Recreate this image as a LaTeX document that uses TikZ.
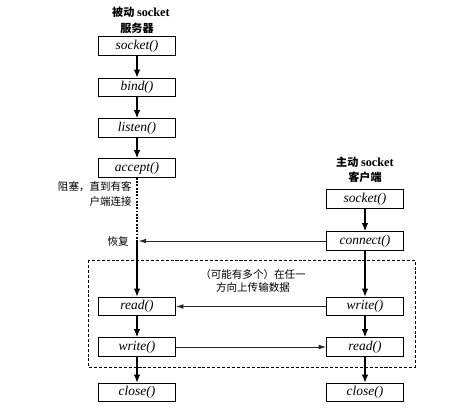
\documentclass[tikz,border=0pt]{standalone}
\usepackage{fontspec}
\setmainfont{Liberation Serif}
\newfontfamily\cjk{Noto Sans CJK SC}
\usetikzlibrary{arrows.meta}

\begin{document}
\begin{tikzpicture}[
    x=0.03cm, y=-0.03cm,
    >={Latex[length=2.4mm,width=1.9mm]},
    every node/.style={font=\fontsize{9}{11}\selectfont\cjk},
    % 函数框
    func/.style={
        draw, line width=1.1pt, minimum width=2.3cm, minimum height=0.55cm,
        inner sep=0pt, font=\fontsize{11.5}{12}\selectfont\itshape
    },
    % 标题
    title/.style={font=\fontsize{9.5}{11}\selectfont\cjk\bfseries},
    % 说明文字
    note/.style={align=right, inner sep=0pt, font=\fontsize{9}{13}\selectfont\cjk},
    % 连线
    flow/.style={->, line width=1pt},
    data/.style={-{Latex[length=2.2mm,width=1.4mm]}, line width=0.6pt, black!85},
    wait/.style={line width=0.9pt, dash pattern=on 1.6pt off 1.2pt},
    % 数据传输区边框
    zone/.style={line width=0.8pt, dash pattern=on 2.6pt off 1.6pt},
]
\useasboundingbox (0,0) rectangle (474,410);

%% ── 服务器端（列 x=137） ──────────────────────────────
\def\lx{137}

\node[title] (stitle) at (141,12) {被动 \textbf{\rmfamily\fontsize{10.5}{11}\selectfont socket}};
\node[title] (sname)  at (\lx,28) {服务器};

\node[func] (ssock)   at (\lx, 46)  {socket()};
\node[func] (sbind)   at (\lx, 87.5){bind()};
\node[func] (slisten) at (\lx,128)  {listen()};
\node[func] (saccept) at (\lx,168)  {accept()};
\node[func] (sread)   at (\lx,306.5){read()};
\node[func] (swrite)  at (\lx,347)  {write()};
\node[func] (sclose)  at (\lx,392.5){close()};

%% ── 客户端（列 x=365） ────────────────────────────────
\def\rx{365}

\node[title] (ctitle) at (\rx,162) {主动 \textbf{\rmfamily\fontsize{10.5}{11}\selectfont socket}};
\node[title] (cname)  at (\rx,177) {客户端};

\node[func] (csock)  at (\rx,199)  {socket()};
\node[func] (cconn)  at (\rx,241)  {connect()};
\node[func] (cwrite) at (\rx,306.5){write()};
\node[func] (cread)  at (\rx,347)  {read()};
\node[func] (cclose) at (\rx,392.5){close()};

%% ── 说明文字 ──────────────────────────────────────────
\node[note, anchor=north east] (block) at (132,181) {阻塞，直到有客\\户端连接};
\node[note, anchor=east] (wake) at (129,241) {恢复};
\coordinate (resume) at (\lx,241);

% 数据传输区
\draw[zone] (88,260) rectangle (415,367);
\node[align=center] (multi) at (253,281) {（可能有多个）在任一\\方向上传输数据};

%% ── 连线 ──────────────────────────────────────────────
\draw[flow] (ssock) -- (sbind);
\draw[flow] (sbind) -- (slisten);
\draw[flow] (slisten) -- (saccept);
\draw[wait] (saccept) -- (resume);
\draw[flow] (resume) -- (sread);
\draw[flow] (sread) -- (swrite);
\draw[flow] (swrite) -- (sclose);

\draw[flow] (csock) -- (cconn);
\draw[flow] (cconn) -- (cwrite);
\draw[flow] (cwrite) -- (cread);
\draw[flow] (cread) -- (cclose);

\draw[data, shorten >=1.5pt] (cconn.west) -- (resume);
\draw[data] (cwrite.west) -- (sread.east);
\draw[data] (swrite.east) -- (cread.west);

\end{tikzpicture}
\end{document}
